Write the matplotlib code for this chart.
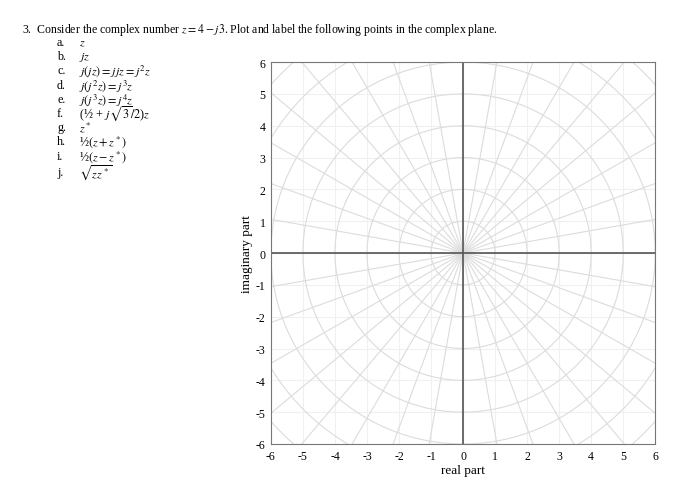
import numpy as np
import matplotlib
matplotlib.use("Agg")
import matplotlib.pyplot as plt

plt.rcParams['font.family'] = ['Liberation Serif', 'DejaVu Serif']
plt.rcParams['mathtext.fontset'] = 'stix'
plt.rcParams['axes.unicode_minus'] = False

ticks = list(range(-6, 7))
radii = [1, 2, 3, 4, 5, 6, 7, 8, 9]
ray_angles_deg = list(range(0, 360, 10))

title = "3.  Consider the complex number $z = 4 - j3$. Plot and label the following points in the complex plane."
item_letters = ["a.", "b.", "c.", "d.", "e.", "f.", "g.", "h.", "i.", "j."]
item_texts = [
    r"$z$",
    r"$jz$",
    r"$j(jz) = jjz = j^2z$",
    r"$j(j^2z) = j^3z$",
    r"$j(j^3z) = j^4z$",
    "(½ + " + r"$j\,\sqrt{3}/2$" + ")" + r"$z$",
    r"$z^*$",
    "½" + r"$(z + z^*)$",
    "½" + r"$(z - z^*)$",
    r"$\sqrt{zz^*}$",
]

fig = plt.figure(figsize=(7.0, 4.89), dpi=100)
ax = fig.add_axes([0.387, 0.09, 0.549, 0.781])

# faint cartesian grid
for t in ticks:
    ax.axvline(t, color='#f0f0f0', lw=0.8, zorder=0)
    ax.axhline(t, color='#f0f0f0', lw=0.8, zorder=0)

# polar grid
th = np.linspace(0, 2 * np.pi, 400)
for r in radii:
    ax.plot(r * np.cos(th), r * np.sin(th), color='#dcdcdc', lw=0.8, zorder=1)
for a in ray_angles_deg:
    ar = np.deg2rad(a)
    ax.plot([0, 10 * np.cos(ar)], [0, 10 * np.sin(ar)], color='#dcdcdc', lw=0.8, zorder=1)

ax.axhline(0, color='#555555', lw=1.2, zorder=2)
ax.axvline(0, color='#555555', lw=1.2, zorder=2)

ax.set_xlim(-6, 6)
ax.set_ylim(-6, 6)
ax.set_xticks(ticks)
ax.set_yticks(ticks)
ax.tick_params(length=0, labelsize=8.5, pad=4)
for s in ax.spines.values():
    s.set_color('#777777')
    s.set_linewidth(0.8)
ax.set_xlabel("real part", fontsize=9.5, labelpad=2)
ax.set_ylabel("imaginary part", fontsize=9.5, labelpad=2)

fig.text(22 / 700, 1 - 30 / 489, title, fontsize=8.5, va='center', ha='left')
for i, (l, t) in enumerate(zip(item_letters, item_texts)):
    y = 1 - (43 + i * 14.2 + (2 if l == "j." else 0)) / 489
    fig.text(57 / 700, y, l, fontsize=8.7, va='center', ha='left')
    fig.text(79 / 700, y, t, fontsize=8.7, va='center', ha='left')

fig.savefig("out.png", dpi=100)
